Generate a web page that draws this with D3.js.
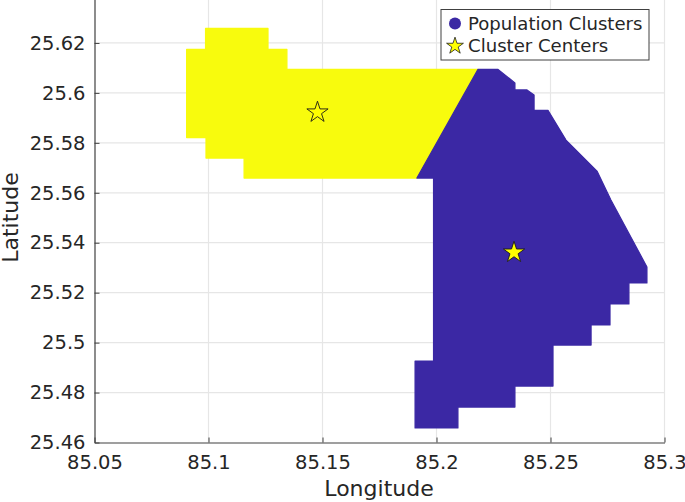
<!DOCTYPE html>
<html>
<head>
<meta charset="utf-8">
<script src="https://cdn.jsdelivr.net/npm/d3@7"></script>
<style>
html,body{margin:0;padding:0;background:#fff;overflow:hidden}
text{font-family:"DejaVu Sans",sans-serif}
</style>
</head>
<body>
<svg id="c" width="685" height="502"></svg>
<script>
const xTicks=[85.05,85.1,85.15,85.2,85.25,85.3];
const xTickLabels=["85.05","85.1","85.15","85.2","85.25","85.3"];
const yTicks=[25.46,25.48,25.5,25.52,25.54,25.56,25.58,25.6,25.62,25.64];
const yTickLabels=["25.46","25.48","25.5","25.52","25.54","25.56","25.58","25.6","25.62","25.64"];
const yellowLon=[85.0987,85.1261,85.1261,85.1344,85.1344,85.2182,85.1914,85.1156,85.1156,85.0989,85.0989,85.0904,85.0904,85.0987];
const yellowLat=[25.6258,25.6258,25.6174,25.6174,25.6094,25.6094,25.5659,25.5659,25.5739,25.5739,25.5821,25.5821,25.6174,25.6174];
const purpleLon=[85.2182,85.2270,85.2344,85.2344,85.2397,85.2428,85.2428,85.2489,85.2568,85.2704,85.2765,85.2923,85.2923,85.2844,85.2844,85.2761,85.2761,85.2678,85.2678,85.2511,85.2511,85.2344,85.2344,85.2094,85.2094,85.1906,85.1906,85.1987,85.1987,85.1914];
const purpleLat=[25.6094,25.6094,25.6040,25.6012,25.6012,25.5992,25.5930,25.5930,25.5811,25.5687,25.5571,25.5303,25.5239,25.5239,25.5155,25.5155,25.5071,25.5071,25.4990,25.4990,25.4826,25.4826,25.4742,25.4742,25.4658,25.4658,25.4926,25.4926,25.5659,25.5659];
const centerLon=[85.1478,85.234];
const centerLat=[25.5922,25.5361];
const legendLabels=["Population Clusters","Cluster Centers"];
const xLabel="Longitude", yLabel="Latitude";
const purple="#3b28a4", yellow="#f8fb0d", textCol="#262626", axisCol="#404040", gridCol="#e6e6e6";

const svg=d3.select("#c");
const x=d3.scaleLinear().domain([85.05,85.3]).range([94.5,664.5]);
const y=d3.scaleLinear().domain([25.46,25.64]).range([442.5,-7]);

// grid
svg.append("g").selectAll("line").data(xTicks.slice(1)).join("line")
 .attr("x1",d=>x(d)).attr("x2",d=>x(d)).attr("y1",y(25.46)).attr("y2",0)
 .attr("stroke",gridCol).attr("stroke-width",1.2);
svg.append("g").selectAll("line").data(yTicks.slice(1)).join("line")
 .attr("y1",d=>y(d)).attr("y2",d=>y(d)).attr("x1",x(85.05)).attr("x2",x(85.3))
 .attr("stroke",gridCol).attr("stroke-width",1.2);

// regions
const line=d3.line().x(d=>x(d[0])).y(d=>y(d[1])).curve(d3.curveLinearClosed);
function region(lon,lat,c){
 svg.append("path").attr("d",line(lon.map((v,i)=>[v,lat[i]])))
  .attr("fill",c).attr("stroke",c).attr("stroke-width",1.2).attr("stroke-linejoin","round");
}
region(yellowLon,yellowLat,yellow);
region(purpleLon,purpleLat,purple);

// axes
const ax=d3.axisBottom(x).tickValues(xTicks).tickFormat((d,i)=>xTickLabels[i]).tickSizeInner(-5).tickSizeOuter(0);
const ay=d3.axisLeft(y).tickValues(yTicks).tickFormat((d,i)=>yTickLabels[i]).tickSizeInner(-5).tickSizeOuter(0);
const gx=svg.append("g").attr("transform",`translate(0,${y(25.46)})`).call(ax);
const gy=svg.append("g").attr("transform",`translate(${x(85.05)},0)`).call(ay);
[gx,gy].forEach(g=>{
 g.selectAll("path.domain").attr("stroke",axisCol).attr("stroke-width",1.2);
 g.selectAll("line").attr("stroke",axisCol).attr("stroke-width",1);
 g.selectAll("text").attr("fill",textCol).style("font-size","19.5px").style("font-family",'"DejaVu Sans"');
});
gx.selectAll("text").attr("dy","0").attr("y",26);
gy.selectAll("text").attr("x",-9);

svg.append("text").attr("x",379).attr("y",496).attr("text-anchor","middle").attr("fill",textCol).style("font-size","22px").text(xLabel);
svg.append("text").attr("transform","translate(18,217.5) rotate(-90)").attr("text-anchor","middle").attr("fill",textCol).style("font-size","22px").text(yLabel);

// stars
const star=d3.symbol().type(d3.symbolStar);
svg.append("g").selectAll("path").data(centerLon).join("path")
 .attr("d",star.size(140)())
 .attr("transform",(d,i)=>`translate(${x(d)},${y(centerLat[i])})`)
 .attr("fill","#ffff00").attr("stroke","#1a1a1a").attr("stroke-width",0.9);

// legend
const lg=svg.append("g");
lg.append("rect").attr("x",441).attr("y",9.5).attr("width",208).attr("height",50.5)
 .attr("fill","#fff").attr("stroke","#404040").attr("stroke-width",1);
lg.append("circle").attr("cx",455).attr("cy",23.5).attr("r",6).attr("fill",purple);
lg.append("path").attr("d",star.size(88)()).attr("transform","translate(455,46)")
 .attr("fill","#ffff00").attr("stroke","#1a1a1a").attr("stroke-width",0.8);
lg.selectAll("text").data(legendLabels).join("text")
 .attr("x",468).attr("y",(d,i)=>30+i*22).attr("fill",textCol).style("font-size","18.1px").text(d=>d);
</script>
</body>
</html>
